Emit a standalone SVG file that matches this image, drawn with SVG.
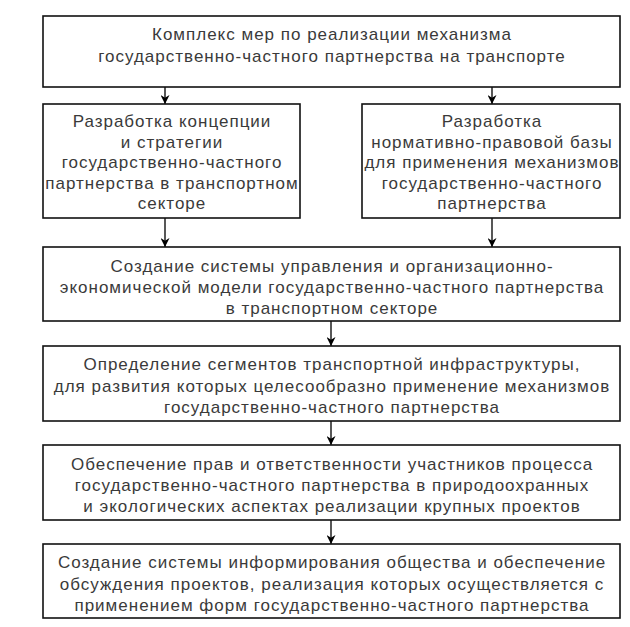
<svg xmlns="http://www.w3.org/2000/svg" width="630" height="627" viewBox="0 0 630 627">
<defs>
<marker id="ah" viewBox="0 0 10 10" refX="10" refY="5" markerWidth="9" markerHeight="9" markerUnits="userSpaceOnUse" orient="auto"><path d="M0,0 L10,5 L0,10 L3,5 Z" fill="#000"/></marker>
</defs>
<style>
rect{fill:#fff;stroke:#111;stroke-width:1.6}
text{font-family:"Liberation Sans",Arial,sans-serif;font-size:17px;letter-spacing:1px;fill:#3a3a3a;text-anchor:middle}
.c line{stroke:#111;stroke-width:1.4;marker-end:url(#ah)}
</style>
<rect x="0" y="0" width="630" height="627" style="fill:#fff;stroke:none"/>
<g class="c" id="connectors">
<line x1="165" y1="87" x2="165" y2="104"/>
<line x1="492" y1="87" x2="492" y2="104"/>
<line x1="165" y1="218" x2="165" y2="247"/>
<line x1="492" y1="218" x2="492" y2="247"/>
<line x1="331" y1="321" x2="331" y2="346"/>
<line x1="331" y1="421" x2="331" y2="445"/>
<line x1="331" y1="520" x2="331" y2="544"/>
</g>
<g id="n1"><rect x="43" y="16" width="577" height="71"/>
<text x="332" y="40">Комплекс мер по реализации механизма</text>
<text x="332" y="62">государственно-частного партнерства на транспорте</text></g>
<g id="n2"><rect x="43" y="104" width="257" height="114"/>
<text x="172" y="127">Разработка концепции</text>
<text x="172" y="148">и стратегии</text>
<text x="172" y="168">государственно-частного</text>
<text x="172" y="189">партнерства в транспортном</text>
<text x="172" y="209">секторе</text></g>
<g id="n3"><rect x="362" y="104" width="258" height="114"/>
<text x="492" y="127">Разработка</text>
<text x="492" y="148">нормативно-правовой базы</text>
<text x="492" y="168">для применения механизмов</text>
<text x="492" y="189">государственно-частного</text>
<text x="492" y="209">партнерства</text></g>
<g id="n4"><rect x="43" y="247" width="577" height="74"/>
<text x="332" y="272">Создание системы управления и организационно-</text>
<text x="332" y="293">экономической модели государственно-частного партнерства</text>
<text x="332" y="314">в транспортном секторе</text></g>
<g id="n5"><rect x="43" y="346" width="577" height="75"/>
<text x="332" y="370">Определение сегментов транспортной инфраструктуры,</text>
<text x="332" y="392">для развития которых целесообразно применение механизмов</text>
<text x="332" y="413">государственно-частного партнерства</text></g>
<g id="n6"><rect x="43" y="445" width="577" height="75"/>
<text x="332" y="470">Обеспечение прав и ответственности участников процесса</text>
<text x="332" y="491">государственно-частного партнерства в природоохранных</text>
<text x="332" y="512">и экологических аспектах реализации крупных проектов</text></g>
<g id="n7"><rect x="43" y="544" width="577" height="74"/>
<text x="332" y="568">Создание системы информирования общества и обеспечение</text>
<text x="332" y="590">обсуждения проектов, реализация которых осуществляется с</text>
<text x="332" y="611">применением форм государственно-частного партнерства</text></g>
</svg>
